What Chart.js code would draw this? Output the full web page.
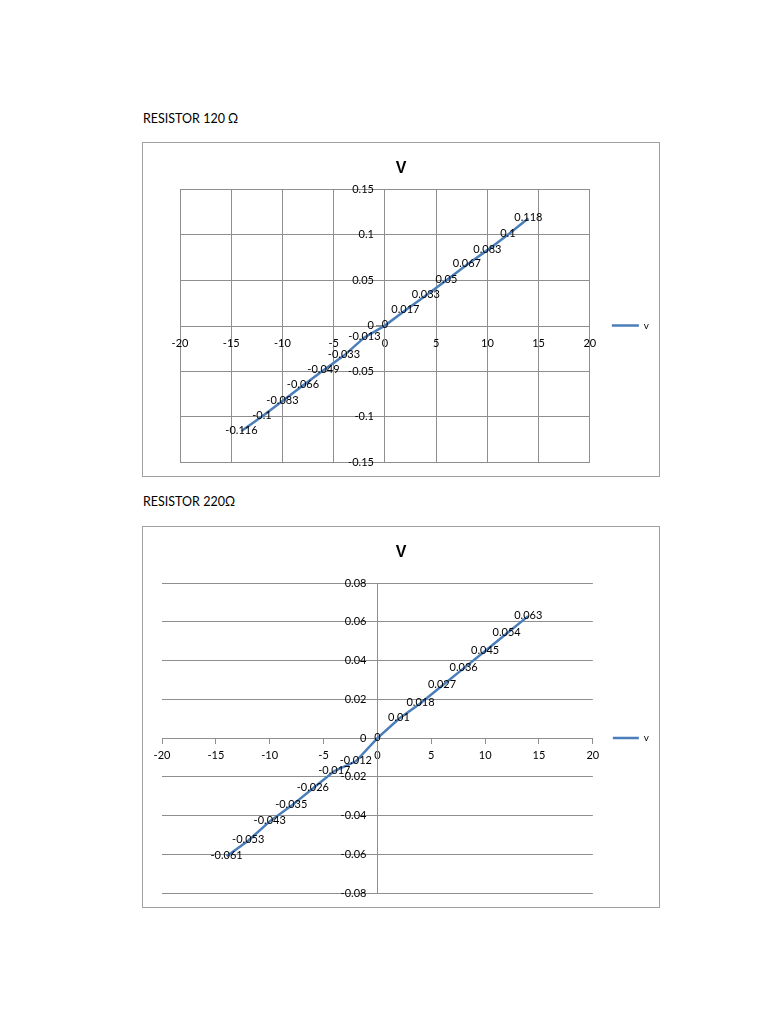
<!DOCTYPE html>
<html>
<head>
<meta charset="utf-8">
<script src="https://cdn.jsdelivr.net/npm/chart.js@4.4.0/dist/chart.umd.min.js"></script>
<style>
  body { margin: 0; background: #fff; width: 768px; height: 1024px; position: relative; font-family: Lato, sans-serif; }
  .heading { position: absolute; left: 143px; font-size: 12.5px; line-height: 15px; color: #000; }
  .box { position: absolute; left: 142px; width: 518px; box-sizing: border-box; border: 1px solid #a0a0a0; }
  canvas { display: block; }
</style>
</head>
<body>

<div class="heading" style="top:111px">RESISTOR 120 Ω</div>
<div class="box" style="top:142px; height:335px"><canvas id="chart-120" width="516" height="333"></canvas></div>

<div class="heading" style="top:494px">RESISTOR 220Ω</div>
<div class="box" style="top:526px; height:382px"><canvas id="chart-220" width="516" height="380"></canvas></div>

<script>
// current values (x) shared by both resistors
var current = [-14, -12, -10, -8, -6, -4, -2, 0, 2, 4, 6, 8, 10, 12, 14];

// measured voltage
var volt120 = [-0.116, -0.1, -0.083, -0.066, -0.049, -0.033, -0.013, 0, 0.017, 0.033, 0.05, 0.067, 0.083, 0.1, 0.118];
var volt220 = [-0.061, -0.053, -0.043, -0.035, -0.026, -0.017, -0.012, 0, 0.01, 0.018, 0.027, 0.036, 0.045, 0.054, 0.063];

// tick labels
var xTicks = [-20, -15, -10, -5, 0, 5, 10, 15, 20];
var yTicks120 = [-0.15, -0.1, -0.05, 0, 0.05, 0.1, 0.15];
var yTicks220 = [-0.08, -0.06, -0.04, -0.02, 0, 0.02, 0.04, 0.06, 0.08];

var lineColor = '#4a7ebb';
var gridColor = '#8e8e8e';

Chart.defaults.font.family = 'Lato, sans-serif';
Chart.defaults.font.size = 11;
Chart.defaults.color = '#000';

/* Draw value labels centred on each point */
var pointLabels = {
    id: 'pointLabels',
    afterDatasetsDraw: function(chart) {
        var ctx = chart.ctx;
        var ds = chart.data.datasets[0];
        var meta = chart.getDatasetMeta(0);
        ctx.save();
        ctx.font = '11px Lato, sans-serif';
        ctx.fillStyle = '#000';
        ctx.textAlign = 'center';
        ctx.textBaseline = 'middle';
        meta.data.forEach(function(pt, i) {
            ctx.fillText(String(ds.data[i].y), pt.x, pt.y - 1);
        });
        ctx.restore();
    }
};

function setTicks(list) {
    return function(scale) {
        scale.ticks = list.map(function(v) { return { value: v }; });
    };
}

// the axis line is drawn by the border, so skip the grid line at zero
function gridAt(c) {
    return c.tick && c.tick.value === 0 ? 'rgba(0,0,0,0)' : gridColor;
}

function makeChart(id, volts, yTicks, opts) {
    var ctx = document.getElementById(id).getContext('2d');
    var points = current.map(function(x, i) { return { x: x, y: volts[i] }; });
    var yMax = yTicks[yTicks.length - 1];

    return new Chart(ctx, {
        type: 'line',
        data: {
            datasets: [{
                label: 'v',
                data: points,
                borderColor: lineColor,
                backgroundColor: lineColor,
                borderWidth: 2.5,
                pointRadius: 0,
                tension: 0
            }]
        },
        options: {
            responsive: false,
            animation: false,
            layout: { padding: { left: 0, right: 0, top: 0, bottom: 14 } },
            plugins: {
                title: {
                    display: true,
                    text: 'V',
                    font: { family: 'Liberation Sans, Arial, sans-serif', size: 16, weight: 'bold' },
                    color: '#000',
                    padding: opts.titlePadding
                },
                legend: {
                    position: 'right',
                    fullSize: false,
                    labels: {
                        boxWidth: opts.legendBox,
                        boxHeight: 0,
                        padding: opts.legendPad,
                        font: { size: 10 }
                    }
                },
                tooltip: { enabled: false }
            },
            scales: {
                x: {
                    type: 'linear',
                    position: 'center',
                    min: -20,
                    max: 20,
                    afterBuildTicks: setTicks(xTicks),
                    afterFit: function(s) { s.paddingLeft = opts.left; },
                    grid: {
                        color: gridAt,
                        drawOnChartArea: opts.vGrid,
                        tickColor: gridColor,
                        tickLength: opts.vGrid ? 8 : 5
                    },
                    border: { color: gridColor },
                    ticks: { padding: opts.vGrid ? 3 : 6 }
                },
                y: {
                    type: 'linear',
                    position: 'center',
                    min: -yMax,
                    max: yMax,
                    afterBuildTicks: setTicks(yTicks),
                    grid: { color: gridAt, tickColor: gridColor },
                    border: { color: gridColor },
                    ticks: {
                        padding: 3,
                        callback: function(v) { return String(v); }
                    }
                }
            }
        },
        plugins: [pointLabels]
    });
}

makeChart('chart-120', volt120, yTicks120, {
    left: 37,
    titlePadding: { top: 16, bottom: 11 },
    legendBox: 27,
    legendPad: 22,
    vGrid: true
});

makeChart('chart-220', volt220, yTicks220, {
    left: 19,
    titlePadding: { top: 16, bottom: 21 },
    legendBox: 26,
    legendPad: 20,
    vGrid: false
});
</script>
</body>
</html>
